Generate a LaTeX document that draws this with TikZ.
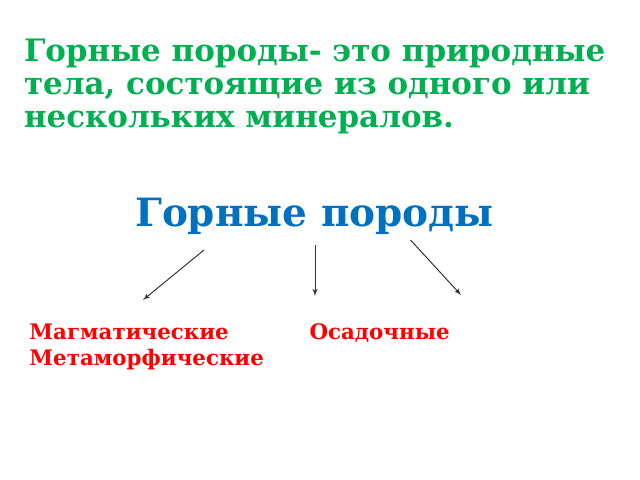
\documentclass[tikz,border=0pt]{standalone}
\usepackage{fontspec}
\setmainfont{DejaVu Serif}
\usepackage{xcolor}
\usepackage{tikz}
\usetikzlibrary{arrows}
\tikzset{>=latex'}
\definecolor{defgreen}{HTML}{00B050}
\definecolor{titleblue}{HTML}{0070C0}
\definecolor{kindred}{HTML}{FF0000}
\definecolor{arrowgray}{HTML}{333333}

\begin{document}
\begin{tikzpicture}[x=0.025cm,y=-0.025cm,font=\bfseries,
	every node/.style={inner sep=0pt,outer sep=0pt},
	link/.style={->,draw=arrowgray,line width=0.7pt}]
	\useasboundingbox (0,0) rectangle (640,480);
	\node[anchor=north west,align=left,text=defgreen,font=\bfseries\fontsize{22}{23.5}\selectfont] (def) at (24,39)
		{Горные породы- это природные\\тела, состоящие из одного или\\нескольких минералов.};
	\node[anchor=base,text=titleblue,font=\bfseries\fontsize{27.7}{33}\selectfont] (title) at (314.5,226.7) {Горные породы};
	\coordinate (s1) at (204,250);
	\coordinate (e1) at (143,300);
	\coordinate (s2) at (315,245);
	\coordinate (e2) at (315,296);
	\coordinate (s3) at (410.5,240);
	\coordinate (e3) at (461,295);
	\draw[link] (s1) -- (e1);
	\draw[link] (s2) -- (e2);
	\draw[link] (s3) -- (e3);
	\node[anchor=north west,align=left,text=kindred,font=\bfseries\fontsize{15.2}{18.3}\selectfont] (magm) at (29.5,323.7)
		{Магматические\\Метаморфические};
	\node[anchor=base west,text=kindred,font=\bfseries\fontsize{15.2}{18.3}\selectfont] (osad) at (309.5,339.3) {Осадочные};
\end{tikzpicture}
\end{document}
